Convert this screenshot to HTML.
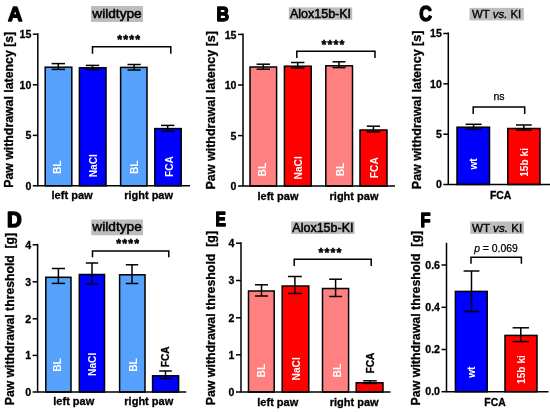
<!DOCTYPE html>
<html lang="en"><head><meta charset="utf-8"><title>Paw withdrawal figure</title>
<style>
html,body{margin:0;padding:0;background:#fff;}
body{width:550px;height:412px;overflow:hidden;}
svg{display:block;font-family:"Liberation Sans",sans-serif;filter:blur(0.35px);}
</style></head><body>
<svg width="550" height="412" viewBox="0 0 550 412">
<rect width="550" height="412" fill="#fff"/>
<rect x="45.20" y="67.20" width="26.60" height="118.60" fill="#55a1fb" stroke="#000" stroke-width="1.5"/>
<rect x="79.40" y="67.80" width="26.60" height="118.00" fill="#0000ff" stroke="#000" stroke-width="1.5"/>
<rect x="120.60" y="67.40" width="26.40" height="118.40" fill="#55a1fb" stroke="#000" stroke-width="1.5"/>
<rect x="154.80" y="128.60" width="26.40" height="57.20" fill="#0000ff" stroke="#000" stroke-width="1.5"/>
<path d="M58.30 63.60L58.30 69.40" stroke="#000" stroke-width="1.5" fill="none"/>
<path d="M51.60 63.60L65.00 63.60" stroke="#000" stroke-width="1.5" fill="none"/>
<path d="M51.60 69.40L65.00 69.40" stroke="#000" stroke-width="1.5" fill="none"/>
<text transform="translate(60.80,174.00) rotate(-90)" font-size="10.2" font-weight="bold" fill="#fff" text-anchor="start">BL</text>
<path d="M92.50 65.40L92.50 69.60" stroke="#000" stroke-width="1.5" fill="none"/>
<path d="M85.80 65.40L99.20 65.40" stroke="#000" stroke-width="1.5" fill="none"/>
<path d="M85.80 69.60L99.20 69.60" stroke="#000" stroke-width="1.5" fill="none"/>
<text transform="translate(96.60,177.30) rotate(-90)" font-size="10.2" font-weight="bold" fill="#fff" text-anchor="start">NaCl</text>
<path d="M134.10 64.50L134.10 70.00" stroke="#000" stroke-width="1.5" fill="none"/>
<path d="M127.50 64.50L140.70 64.50" stroke="#000" stroke-width="1.5" fill="none"/>
<path d="M127.50 70.00L140.70 70.00" stroke="#000" stroke-width="1.5" fill="none"/>
<text transform="translate(138.20,174.00) rotate(-90)" font-size="10.2" font-weight="bold" fill="#fff" text-anchor="start">BL</text>
<path d="M167.70 125.40L167.70 131.40" stroke="#000" stroke-width="1.5" fill="none"/>
<path d="M161.00 125.40L174.40 125.40" stroke="#000" stroke-width="1.5" fill="none"/>
<path d="M161.00 131.40L174.40 131.40" stroke="#000" stroke-width="1.5" fill="none"/>
<text transform="translate(172.60,177.00) rotate(-90)" font-size="10.2" font-weight="bold" fill="#fff" text-anchor="start">FCA</text>
<path d="M37.80 33.25L37.80 185.80L190.00 185.80" stroke="#000" stroke-width="1.5" fill="none"/>
<path d="M32.80 34.20L37.80 34.20" stroke="#000" stroke-width="1.5" fill="none"/>
<text x="31.30" y="37.90" font-size="10.6" font-weight="bold" fill="#000" text-anchor="end" stroke="#000" stroke-width="0.3">15</text>
<path d="M32.80 84.80L37.80 84.80" stroke="#000" stroke-width="1.5" fill="none"/>
<text x="31.30" y="88.50" font-size="10.6" font-weight="bold" fill="#000" text-anchor="end" stroke="#000" stroke-width="0.3">10</text>
<path d="M32.80 135.40L37.80 135.40" stroke="#000" stroke-width="1.5" fill="none"/>
<text x="31.30" y="139.10" font-size="10.6" font-weight="bold" fill="#000" text-anchor="end" stroke="#000" stroke-width="0.3">5</text>
<path d="M32.80 185.80L37.80 185.80" stroke="#000" stroke-width="1.5" fill="none"/>
<text x="31.30" y="189.50" font-size="10.6" font-weight="bold" fill="#000" text-anchor="end" stroke="#000" stroke-width="0.3">0</text>
<text transform="translate(13.40,187.80) rotate(-90)" font-size="12.1" font-weight="bold" fill="#000" text-anchor="start" xml:space="preserve" textLength="156" lengthAdjust="spacingAndGlyphs" stroke="#000" stroke-width="0.3">Paw withdrawal latency [s]</text>
<text x="72.10" y="199.00" font-size="11.1" font-weight="bold" fill="#000" text-anchor="middle" stroke="#000" stroke-width="0.3">left paw</text>
<text x="148.60" y="198.80" font-size="11" font-weight="bold" fill="#000" text-anchor="middle" stroke="#000" stroke-width="0.3">right paw</text>
<rect x="91.00" y="6.00" width="52.00" height="16.00" fill="#bdbdbd"/>
<text x="117.00" y="18.00" font-size="13.7" font-weight="normal" fill="#000" text-anchor="middle" stroke="#000" stroke-width="0.5">wildtype</text>
<path d="M92.50 53.80L92.50 46.80L170.80 46.80L170.80 53.80" stroke="#000" stroke-width="1.5" fill="none"/>
<text x="117.30" y="44.30" font-size="12.5" font-weight="bold" letter-spacing="1.15" stroke="#000" stroke-width="0.5">****</text>
<text transform="translate(8.00,21.10) scale(1.17,1.2)" font-size="17" font-weight="bold" stroke="#000" stroke-width="1.2" stroke-linejoin="round">A</text>
<rect x="250.00" y="67.00" width="26.60" height="119.00" fill="#ff8080" stroke="#000" stroke-width="1.5"/>
<rect x="284.40" y="66.20" width="26.80" height="119.80" fill="#ff0000" stroke="#000" stroke-width="1.5"/>
<rect x="325.80" y="65.80" width="26.70" height="120.20" fill="#ff8080" stroke="#000" stroke-width="1.5"/>
<rect x="360.00" y="130.00" width="27.00" height="56.00" fill="#ff0000" stroke="#000" stroke-width="1.5"/>
<path d="M263.30 64.20L263.30 69.20" stroke="#000" stroke-width="1.5" fill="none"/>
<path d="M256.60 64.20L270.00 64.20" stroke="#000" stroke-width="1.5" fill="none"/>
<path d="M256.60 69.20L270.00 69.20" stroke="#000" stroke-width="1.5" fill="none"/>
<text transform="translate(266.00,176.40) rotate(-90)" font-size="10.2" font-weight="bold" fill="#fff" text-anchor="start">BL</text>
<path d="M297.70 62.50L297.70 68.00" stroke="#000" stroke-width="1.5" fill="none"/>
<path d="M291.00 62.50L304.40 62.50" stroke="#000" stroke-width="1.5" fill="none"/>
<path d="M291.00 68.00L304.40 68.00" stroke="#000" stroke-width="1.5" fill="none"/>
<text transform="translate(302.00,179.40) rotate(-90)" font-size="10.2" font-weight="bold" fill="#fff" text-anchor="start">NaCl</text>
<path d="M339.00 61.80L339.00 67.60" stroke="#000" stroke-width="1.5" fill="none"/>
<path d="M332.50 61.80L345.50 61.80" stroke="#000" stroke-width="1.5" fill="none"/>
<path d="M332.50 67.60L345.50 67.60" stroke="#000" stroke-width="1.5" fill="none"/>
<text transform="translate(343.60,176.30) rotate(-90)" font-size="10.2" font-weight="bold" fill="#fff" text-anchor="start">BL</text>
<path d="M373.40 126.20L373.40 132.00" stroke="#000" stroke-width="1.5" fill="none"/>
<path d="M366.80 126.20L380.00 126.20" stroke="#000" stroke-width="1.5" fill="none"/>
<path d="M366.80 132.00L380.00 132.00" stroke="#000" stroke-width="1.5" fill="none"/>
<text transform="translate(378.00,178.20) rotate(-90)" font-size="10.2" font-weight="bold" fill="#fff" text-anchor="start">FCA</text>
<path d="M243.00 33.45L243.00 186.00L395.00 186.00" stroke="#000" stroke-width="1.5" fill="none"/>
<path d="M238.00 34.40L243.00 34.40" stroke="#000" stroke-width="1.5" fill="none"/>
<text x="236.50" y="38.70" font-size="10.6" font-weight="bold" fill="#000" text-anchor="end" stroke="#000" stroke-width="0.3">15</text>
<path d="M238.00 85.00L243.00 85.00" stroke="#000" stroke-width="1.5" fill="none"/>
<text x="236.50" y="89.30" font-size="10.6" font-weight="bold" fill="#000" text-anchor="end" stroke="#000" stroke-width="0.3">10</text>
<path d="M238.00 135.60L243.00 135.60" stroke="#000" stroke-width="1.5" fill="none"/>
<text x="236.50" y="139.90" font-size="10.6" font-weight="bold" fill="#000" text-anchor="end" stroke="#000" stroke-width="0.3">5</text>
<path d="M238.00 186.00L243.00 186.00" stroke="#000" stroke-width="1.5" fill="none"/>
<text x="236.50" y="190.30" font-size="10.6" font-weight="bold" fill="#000" text-anchor="end" stroke="#000" stroke-width="0.3">0</text>
<text transform="translate(215.40,189.60) rotate(-90)" font-size="12.1" font-weight="bold" fill="#000" text-anchor="start" xml:space="preserve" textLength="158.6" lengthAdjust="spacingAndGlyphs" stroke="#000" stroke-width="0.3">Paw withdrawal latency [s]</text>
<text x="278.00" y="200.10" font-size="11" font-weight="bold" fill="#000" text-anchor="middle" stroke="#000" stroke-width="0.3">left paw</text>
<text x="354.00" y="200.00" font-size="11" font-weight="bold" fill="#000" text-anchor="middle" stroke="#000" stroke-width="0.3">right paw</text>
<rect x="288.80" y="7.40" width="63.40" height="12.40" fill="#bdbdbd"/>
<text x="320.50" y="17.80" font-size="12.5" font-weight="normal" fill="#000" text-anchor="middle" stroke="#000" stroke-width="0.5">Alox15b-KI</text>
<path d="M296.80 58.00L296.80 51.20L375.00 51.20L375.00 58.00" stroke="#000" stroke-width="1.5" fill="none"/>
<text x="321.50" y="49.20" font-size="12.5" font-weight="bold" letter-spacing="1.15" stroke="#000" stroke-width="0.5">****</text>
<text transform="translate(216.60,21.20) scale(1.03,1.2)" font-size="17" font-weight="bold" stroke="#000" stroke-width="1.2" stroke-linejoin="round">B</text>
<rect x="457.00" y="127.20" width="32.50" height="57.30" fill="#0000ff" stroke="#000" stroke-width="1.5"/>
<rect x="507.80" y="128.50" width="32.20" height="56.00" fill="#ff0000" stroke="#000" stroke-width="1.5"/>
<path d="M473.60 124.30L473.60 129.40" stroke="#000" stroke-width="1.5" fill="none"/>
<path d="M465.60 124.30L481.60 124.30" stroke="#000" stroke-width="1.5" fill="none"/>
<path d="M465.60 129.40L481.60 129.40" stroke="#000" stroke-width="1.5" fill="none"/>
<text transform="translate(477.30,169.60) rotate(-90)" font-size="10.2" font-weight="bold" fill="#fff" text-anchor="start">wt</text>
<path d="M523.85 125.00L523.85 130.20" stroke="#000" stroke-width="1.5" fill="none"/>
<path d="M516.00 125.00L531.70 125.00" stroke="#000" stroke-width="1.5" fill="none"/>
<path d="M516.00 130.20L531.70 130.20" stroke="#000" stroke-width="1.5" fill="none"/>
<text transform="translate(528.40,176.80) rotate(-90)" font-size="10.2" font-weight="bold" fill="#fff" text-anchor="start">15b ki</text>
<path d="M448.30 32.55L448.30 184.50L551.00 184.50" stroke="#000" stroke-width="1.5" fill="none"/>
<path d="M443.30 33.50L448.30 33.50" stroke="#000" stroke-width="1.5" fill="none"/>
<text x="441.80" y="37.20" font-size="10.6" font-weight="bold" fill="#000" text-anchor="end" stroke="#000" stroke-width="0.3">15</text>
<path d="M443.30 83.80L448.30 83.80" stroke="#000" stroke-width="1.5" fill="none"/>
<text x="441.80" y="87.50" font-size="10.6" font-weight="bold" fill="#000" text-anchor="end" stroke="#000" stroke-width="0.3">10</text>
<path d="M443.30 134.20L448.30 134.20" stroke="#000" stroke-width="1.5" fill="none"/>
<text x="441.80" y="137.90" font-size="10.6" font-weight="bold" fill="#000" text-anchor="end" stroke="#000" stroke-width="0.3">5</text>
<path d="M443.30 184.50L448.30 184.50" stroke="#000" stroke-width="1.5" fill="none"/>
<text x="441.80" y="188.20" font-size="10.6" font-weight="bold" fill="#000" text-anchor="end" stroke="#000" stroke-width="0.3">0</text>
<text transform="translate(421.40,189.20) rotate(-90)" font-size="12.1" font-weight="bold" fill="#000" text-anchor="start" xml:space="preserve" textLength="158.6" lengthAdjust="spacingAndGlyphs" stroke="#000" stroke-width="0.3">Paw withdrawal latency [s]</text>
<text x="500.60" y="199.40" font-size="10.4" font-weight="bold" fill="#000" text-anchor="middle" stroke="#000" stroke-width="0.3">FCA</text>
<rect x="469.50" y="7.90" width="54.30" height="12.50" fill="#bdbdbd"/>
<text x="496.65" y="17.80" font-size="11.4" font-weight="normal" fill="#000" text-anchor="middle" stroke="#000" stroke-width="0.35">WT <tspan font-style="italic">vs.</tspan> KI</text>
<path d="M473.20 114.00L473.20 106.90L524.70 106.90L524.70 114.00" stroke="#000" stroke-width="1.5" fill="none"/>
<text x="499.00" y="100.20" font-size="10.5" font-weight="normal" fill="#000" text-anchor="middle" stroke="#000" stroke-width="0.25">ns</text>
<text transform="translate(419.20,21.30) scale(1.03,1.26)" font-size="17" font-weight="bold" stroke="#000" stroke-width="1.2" stroke-linejoin="round">C</text>
<rect x="45.80" y="277.30" width="25.20" height="114.70" fill="#55a1fb" stroke="#000" stroke-width="1.5"/>
<rect x="79.30" y="274.50" width="25.20" height="117.50" fill="#0000ff" stroke="#000" stroke-width="1.5"/>
<rect x="119.60" y="274.80" width="25.40" height="117.20" fill="#55a1fb" stroke="#000" stroke-width="1.5"/>
<rect x="152.60" y="375.80" width="26.00" height="16.20" fill="#0000ff" stroke="#000" stroke-width="1.5"/>
<path d="M58.40 268.50L58.40 283.40" stroke="#000" stroke-width="1.5" fill="none"/>
<path d="M51.80 268.50L65.00 268.50" stroke="#000" stroke-width="1.5" fill="none"/>
<path d="M51.80 283.40L65.00 283.40" stroke="#000" stroke-width="1.5" fill="none"/>
<text transform="translate(60.80,371.80) rotate(-90)" font-size="10.2" font-weight="bold" fill="#fff" text-anchor="start">BL</text>
<path d="M92.00 263.00L92.00 284.00" stroke="#000" stroke-width="1.5" fill="none"/>
<path d="M85.80 263.00L98.20 263.00" stroke="#000" stroke-width="1.5" fill="none"/>
<path d="M85.80 284.00L98.20 284.00" stroke="#000" stroke-width="1.5" fill="none"/>
<text transform="translate(96.20,375.90) rotate(-90)" font-size="10.2" font-weight="bold" fill="#fff" text-anchor="start">NaCl</text>
<path d="M132.00 264.80L132.00 283.50" stroke="#000" stroke-width="1.5" fill="none"/>
<path d="M125.80 264.80L138.20 264.80" stroke="#000" stroke-width="1.5" fill="none"/>
<path d="M125.80 283.50L138.20 283.50" stroke="#000" stroke-width="1.5" fill="none"/>
<text transform="translate(136.80,371.80) rotate(-90)" font-size="10.2" font-weight="bold" fill="#fff" text-anchor="start">BL</text>
<path d="M165.50 371.00L165.50 378.50" stroke="#000" stroke-width="1.5" fill="none"/>
<path d="M159.20 371.00L171.80 371.00" stroke="#000" stroke-width="1.5" fill="none"/>
<path d="M159.20 378.50L171.80 378.50" stroke="#000" stroke-width="1.5" fill="none"/>
<text transform="translate(169.20,367.30) rotate(-90)" font-size="10.2" font-weight="bold" fill="#000" text-anchor="start" stroke="#000" stroke-width="0.3">FCA</text>
<path d="M37.60 243.85L37.60 392.00L186.30 392.00" stroke="#000" stroke-width="1.5" fill="none"/>
<path d="M32.60 244.80L37.60 244.80" stroke="#000" stroke-width="1.5" fill="none"/>
<text x="31.10" y="248.50" font-size="10.6" font-weight="bold" fill="#000" text-anchor="end" stroke="#000" stroke-width="0.3">4</text>
<path d="M32.60 281.80L37.60 281.80" stroke="#000" stroke-width="1.5" fill="none"/>
<text x="31.10" y="285.50" font-size="10.6" font-weight="bold" fill="#000" text-anchor="end" stroke="#000" stroke-width="0.3">3</text>
<path d="M32.60 318.80L37.60 318.80" stroke="#000" stroke-width="1.5" fill="none"/>
<text x="31.10" y="322.50" font-size="10.6" font-weight="bold" fill="#000" text-anchor="end" stroke="#000" stroke-width="0.3">2</text>
<path d="M32.60 355.40L37.60 355.40" stroke="#000" stroke-width="1.5" fill="none"/>
<text x="31.10" y="359.10" font-size="10.6" font-weight="bold" fill="#000" text-anchor="end" stroke="#000" stroke-width="0.3">1</text>
<path d="M32.60 392.00L37.60 392.00" stroke="#000" stroke-width="1.5" fill="none"/>
<text x="31.10" y="395.70" font-size="10.6" font-weight="bold" fill="#000" text-anchor="end" stroke="#000" stroke-width="0.3">0</text>
<text transform="translate(13.90,405.20) rotate(-90)" font-size="12.1" font-weight="bold" fill="#000" text-anchor="start" xml:space="preserve" textLength="172.3" lengthAdjust="spacingAndGlyphs" stroke="#000" stroke-width="0.3">Paw withdrawal threshold  [g]</text>
<text x="73.80" y="405.40" font-size="11" font-weight="bold" fill="#000" text-anchor="middle" stroke="#000" stroke-width="0.3">left paw</text>
<text x="148.80" y="405.40" font-size="11" font-weight="bold" fill="#000" text-anchor="middle" stroke="#000" stroke-width="0.3">right paw</text>
<rect x="91.20" y="219.50" width="51.80" height="15.80" fill="#bdbdbd"/>
<text x="117.10" y="231.20" font-size="13.7" font-weight="normal" fill="#000" text-anchor="middle" stroke="#000" stroke-width="0.5">wildtype</text>
<path d="M92.50 257.20L92.50 251.00L168.80 251.00L168.80 257.20" stroke="#000" stroke-width="1.5" fill="none"/>
<text x="116.20" y="248.40" font-size="12.5" font-weight="bold" letter-spacing="1.15" stroke="#000" stroke-width="0.5">****</text>
<text transform="translate(7.00,226.60) scale(1.2,1.26)" font-size="17" font-weight="bold" stroke="#000" stroke-width="1.2" stroke-linejoin="round">D</text>
<rect x="248.50" y="291.00" width="25.70" height="101.00" fill="#ff8080" stroke="#000" stroke-width="1.5"/>
<rect x="282.20" y="286.00" width="26.60" height="106.00" fill="#ff0000" stroke="#000" stroke-width="1.5"/>
<rect x="322.50" y="288.50" width="26.10" height="103.50" fill="#ff8080" stroke="#000" stroke-width="1.5"/>
<rect x="356.20" y="382.80" width="26.80" height="9.20" fill="#ff0000" stroke="#000" stroke-width="1.5"/>
<path d="M261.50 284.80L261.50 296.00" stroke="#000" stroke-width="1.5" fill="none"/>
<path d="M255.00 284.80L268.00 284.80" stroke="#000" stroke-width="1.5" fill="none"/>
<path d="M255.00 296.00L268.00 296.00" stroke="#000" stroke-width="1.5" fill="none"/>
<text transform="translate(264.60,377.40) rotate(-90)" font-size="10.2" font-weight="bold" fill="#fff" text-anchor="start">BL</text>
<path d="M294.90 276.50L294.90 293.50" stroke="#000" stroke-width="1.5" fill="none"/>
<path d="M288.00 276.50L301.80 276.50" stroke="#000" stroke-width="1.5" fill="none"/>
<path d="M288.00 293.50L301.80 293.50" stroke="#000" stroke-width="1.5" fill="none"/>
<text transform="translate(299.60,380.40) rotate(-90)" font-size="10.2" font-weight="bold" fill="#fff" text-anchor="start">NaCl</text>
<path d="M335.60 279.20L335.60 296.50" stroke="#000" stroke-width="1.5" fill="none"/>
<path d="M329.20 279.20L342.00 279.20" stroke="#000" stroke-width="1.5" fill="none"/>
<path d="M329.20 296.50L342.00 296.50" stroke="#000" stroke-width="1.5" fill="none"/>
<text transform="translate(340.60,377.40) rotate(-90)" font-size="10.2" font-weight="bold" fill="#fff" text-anchor="start">BL</text>
<path d="M370.00 380.80L370.00 383.40" stroke="#000" stroke-width="1.5" fill="none"/>
<path d="M363.20 380.80L376.80 380.80" stroke="#000" stroke-width="1.5" fill="none"/>
<path d="M363.20 383.40L376.80 383.40" stroke="#000" stroke-width="1.5" fill="none"/>
<text transform="translate(373.60,373.50) rotate(-90)" font-size="10.2" font-weight="bold" fill="#000" text-anchor="start" stroke="#000" stroke-width="0.3">FCA</text>
<path d="M241.00 242.25L241.00 392.00L390.50 392.00" stroke="#000" stroke-width="1.5" fill="none"/>
<path d="M236.00 243.20L241.00 243.20" stroke="#000" stroke-width="1.5" fill="none"/>
<text x="234.50" y="246.90" font-size="10.6" font-weight="bold" fill="#000" text-anchor="end" stroke="#000" stroke-width="0.3">4</text>
<path d="M236.00 280.50L241.00 280.50" stroke="#000" stroke-width="1.5" fill="none"/>
<text x="234.50" y="284.20" font-size="10.6" font-weight="bold" fill="#000" text-anchor="end" stroke="#000" stroke-width="0.3">3</text>
<path d="M236.00 317.80L241.00 317.80" stroke="#000" stroke-width="1.5" fill="none"/>
<text x="234.50" y="321.50" font-size="10.6" font-weight="bold" fill="#000" text-anchor="end" stroke="#000" stroke-width="0.3">2</text>
<path d="M236.00 354.80L241.00 354.80" stroke="#000" stroke-width="1.5" fill="none"/>
<text x="234.50" y="358.50" font-size="10.6" font-weight="bold" fill="#000" text-anchor="end" stroke="#000" stroke-width="0.3">1</text>
<path d="M236.00 392.00L241.00 392.00" stroke="#000" stroke-width="1.5" fill="none"/>
<text x="234.50" y="395.70" font-size="10.6" font-weight="bold" fill="#000" text-anchor="end" stroke="#000" stroke-width="0.3">0</text>
<text transform="translate(214.80,405.30) rotate(-90)" font-size="12.1" font-weight="bold" fill="#000" text-anchor="start" xml:space="preserve" textLength="174.3" lengthAdjust="spacingAndGlyphs" stroke="#000" stroke-width="0.3">Paw withdrawal threshold  [g]</text>
<text x="277.80" y="405.90" font-size="11" font-weight="bold" fill="#000" text-anchor="middle" stroke="#000" stroke-width="0.3">left paw</text>
<text x="354.20" y="405.80" font-size="11" font-weight="bold" fill="#000" text-anchor="middle" stroke="#000" stroke-width="0.3">right paw</text>
<rect x="291.20" y="221.40" width="63.40" height="12.60" fill="#bdbdbd"/>
<text x="322.90" y="231.80" font-size="12.5" font-weight="normal" fill="#000" text-anchor="middle" stroke="#000" stroke-width="0.5">Alox15b-KI</text>
<path d="M294.20 266.00L294.20 259.20L371.20 259.20L371.20 266.00" stroke="#000" stroke-width="1.5" fill="none"/>
<text x="318.50" y="257.30" font-size="12.5" font-weight="bold" letter-spacing="1.15" stroke="#000" stroke-width="0.5">****</text>
<text transform="translate(215.60,226.00) scale(0.92,1.2)" font-size="17" font-weight="bold" stroke="#000" stroke-width="1.2" stroke-linejoin="round">E</text>
<rect x="455.40" y="291.40" width="31.80" height="100.30" fill="#0000ff" stroke="#000" stroke-width="1.5"/>
<rect x="505.00" y="335.40" width="32.00" height="56.30" fill="#ff0000" stroke="#000" stroke-width="1.5"/>
<path d="M471.50 271.00L471.50 311.50" stroke="#000" stroke-width="1.5" fill="none"/>
<path d="M463.60 271.00L479.40 271.00" stroke="#000" stroke-width="1.5" fill="none"/>
<path d="M463.60 311.50L479.40 311.50" stroke="#000" stroke-width="1.5" fill="none"/>
<text transform="translate(475.30,377.80) rotate(-90)" font-size="10.2" font-weight="bold" fill="#fff" text-anchor="start">wt</text>
<path d="M520.80 327.80L520.80 341.60" stroke="#000" stroke-width="1.5" fill="none"/>
<path d="M512.60 327.80L529.00 327.80" stroke="#000" stroke-width="1.5" fill="none"/>
<path d="M512.60 341.60L529.00 341.60" stroke="#000" stroke-width="1.5" fill="none"/>
<text transform="translate(525.00,384.00) rotate(-90)" font-size="10.2" font-weight="bold" fill="#fff" text-anchor="start">15b ki</text>
<path d="M446.50 242.85L446.50 391.70L548.50 391.70" stroke="#000" stroke-width="1.5" fill="none"/>
<path d="M441.50 265.00L446.50 265.00" stroke="#000" stroke-width="1.5" fill="none"/>
<text x="440.00" y="268.70" font-size="10.6" font-weight="bold" fill="#000" text-anchor="end" stroke="#000" stroke-width="0.3">0.6</text>
<path d="M441.50 307.30L446.50 307.30" stroke="#000" stroke-width="1.5" fill="none"/>
<text x="440.00" y="311.00" font-size="10.6" font-weight="bold" fill="#000" text-anchor="end" stroke="#000" stroke-width="0.3">0.4</text>
<path d="M441.50 349.50L446.50 349.50" stroke="#000" stroke-width="1.5" fill="none"/>
<text x="440.00" y="353.20" font-size="10.6" font-weight="bold" fill="#000" text-anchor="end" stroke="#000" stroke-width="0.3">0.2</text>
<path d="M441.50 391.70L446.50 391.70" stroke="#000" stroke-width="1.5" fill="none"/>
<text x="440.00" y="395.40" font-size="10.6" font-weight="bold" fill="#000" text-anchor="end" stroke="#000" stroke-width="0.3">0.0</text>
<text transform="translate(420.00,405.40) rotate(-90)" font-size="12.1" font-weight="bold" fill="#000" text-anchor="start" xml:space="preserve" textLength="174.5" lengthAdjust="spacingAndGlyphs" stroke="#000" stroke-width="0.3">Paw withdrawal threshold  [g]</text>
<text x="495.00" y="406.00" font-size="10.4" font-weight="bold" fill="#000" text-anchor="middle" stroke="#000" stroke-width="0.3">FCA</text>
<rect x="470.20" y="221.50" width="53.80" height="12.40" fill="#bdbdbd"/>
<text x="497.10" y="231.60" font-size="11.6" font-weight="normal" fill="#000" text-anchor="middle" stroke="#000" stroke-width="0.35">WT <tspan font-style="italic">vs.</tspan> KI</text>
<path d="M471.00 263.80L471.00 257.30L521.40 257.30L521.40 263.80" stroke="#000" stroke-width="1.5" fill="none"/>
<text x="496.00" y="252.10" font-size="10.4" font-weight="normal" fill="#000" text-anchor="middle" stroke="#000" stroke-width="0.25"><tspan font-style="italic">p</tspan> = 0.069</text>
<text transform="translate(420.40,226.60) scale(0.97,1.22)" font-size="17" font-weight="bold" stroke="#000" stroke-width="1.2" stroke-linejoin="round">F</text>
</svg>
</body></html>
